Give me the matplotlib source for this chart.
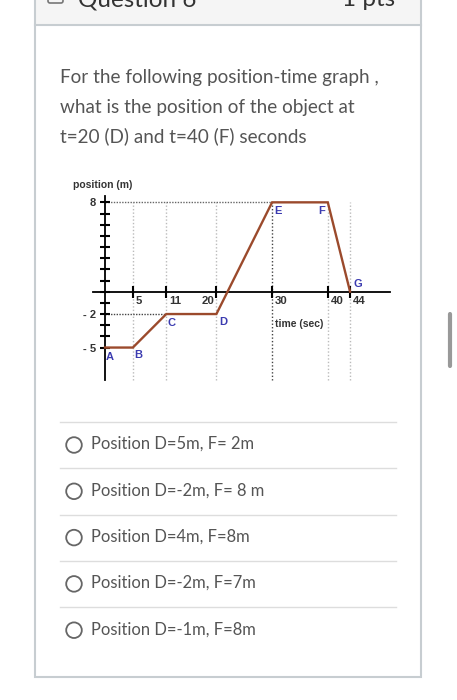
import matplotlib.pyplot as plt
import matplotlib.transforms as mtransforms
from matplotlib.patches import Rectangle, FancyBboxPatch, Circle

# graph data (position-time)
times = [0, 5, 11, 20, 30, 40, 44]
positions = [-5, -5, -2, -2, 8, 8, 0]
point_names = ["A", "B", "C", "D", "E", "F", "G"]
xtick_vals = [5, 11, 20, 30, 40, 44]
ytick_labels = {8: "8", -2: "- 2", -5: "- 5"}

question_lines = ["For the following position-time graph ,",
                  "what is the position of the object at",
                  "t=20 (D) and t=40 (F) seconds"]
options = ["Position D=5m, F= 2m",
           "Position D=-2m, F= 8 m",
           "Position D=4m, F=8m",
           "Position D=-2m, F=7m",
           "Position D=-1m, F=8m"]

W, H = 457, 700
fig = plt.figure(figsize=(W / 100, H / 100), dpi=100)

# background axes in pixel coords
bg = fig.add_axes([0, 0, 1, 1])
bg.set_xlim(0, W)
bg.set_ylim(H, 0)
bg.axis("off")

border = "#c7cdd1"
text_col = "#555555"
ui_font = ["Lato", "DejaVu Sans"]

# card + header
bg.add_patch(Rectangle((35, -5), 386, 30, facecolor="#f5f5f5", edgecolor="none"))
bg.add_patch(Rectangle((35, -5), 386, 682, facecolor="none", edgecolor=border, lw=1.5))
bg.plot([35, 421], [25, 25], color=border, lw=1.5)
bg.add_patch(FancyBboxPatch((48, -12), 15, 15, boxstyle="round,pad=0,rounding_size=2",
                            facecolor="none", edgecolor="#777777", lw=1.2))
# header title is cut by the top edge, as in the screenshot
bg.text(78, 6.5, "Question 6", fontsize=17.5, family=ui_font, color="#333333", va="baseline")
bg.text(395, 6.5, "1 pts", fontsize=17.5, family=ui_font, color="#333333",
        va="baseline", ha="right")

# scrollbar
bg.plot([450, 450], [314, 366], color="#999999", lw=3, solid_capstyle="round")

# question text
for i, line in enumerate(question_lines):
    bg.text(60, 78 + i * 29, line, fontsize=13.6, family=ui_font, color=text_col, va="center")

# answer options
for i, opt in enumerate(options):
    y_line = 422 + i * 46.3
    bg.plot([60, 396], [y_line, y_line], color="#dddddd", lw=1)
    yc = y_line + 23
    bg.add_patch(Circle((74, yc), 7.8, facecolor="white", edgecolor="#666666", lw=1.3))
    bg.text(91, yc - 1, opt, fontsize=11.9, family=ui_font, color=text_col, va="center")

# chart axes placed so that t=0 -> px 105, x=0 -> px 291.7
x0, xs = 105, 5.57
y0, ys = 291.7, 11.17
left_px, right_px, top_px, bot_px = 90, 395, 180, 385
ax = fig.add_axes([left_px / W, 1 - bot_px / H, (right_px - left_px) / W, (bot_px - top_px) / H])
ax.patch.set_alpha(0)
ax.set_xlim((left_px - x0) / xs, (right_px - x0) / xs)
ax.set_ylim((y0 - bot_px) / ys, (y0 - top_px) / ys)

for s in ["top", "right"]:
    ax.spines[s].set_visible(False)
ax.spines["left"].set_position(("data", 0))
ax.spines["bottom"].set_position(("data", 0))
ax.spines["left"].set_bounds(-7.9, 8.6)
ax.spines["bottom"].set_bounds(-2.15, 51.1)
ax.spines["left"].set_linewidth(1.3)
ax.spines["bottom"].set_linewidth(1.3)

ax.set_yticks(range(-5, 9))
ax.set_yticklabels([ytick_labels.get(v, "") for v in range(-5, 9)])
ax.set_xticks(xtick_vals)
ax.set_xticklabels([])
ax.tick_params(axis="both", direction="inout", length=7, width=1.5, colors="black")
ax.tick_params(axis="x", length=8)
ax.tick_params(axis="y", pad=3, labelsize=8)
for lab in ax.get_yticklabels():
    lab.set_fontfamily("Liberation Sans")
    lab.set_fontweight("bold")
    lab.set_color("#333333")

# dotted guide lines
for t in xtick_vals:
    col = "#444444" if t == 30 else "#bbbbbb"
    ax.plot([t, t], [-7.9, 8], color=col, lw=1, linestyle=(0, (1, 1.5)), zorder=1)
ax.plot([0, 30], [8, 8], color="#666666", lw=1, linestyle=(0, (1, 1)), zorder=1)
ax.plot([0, 11], [-2, -2], color="#444444", lw=1, linestyle=(0, (1, 1)), zorder=1)

# graph line
ax.plot(times, positions, color="#9b4a2c", lw=1.7, zorder=3, solid_joinstyle="miter")

# x tick labels (beside each tick)
tick_font = dict(family="Liberation Sans", fontweight="bold", fontsize=8.2, color="#333333")
for t in xtick_vals:
    if t == 20:
        tr = mtransforms.offset_copy(ax.transData, fig=fig, x=-2, y=-9, units="dots")
        ax.text(t, 0, str(t), transform=tr, ha="right", va="center", **tick_font)
    else:
        tr = mtransforms.offset_copy(ax.transData, fig=fig, x=3, y=-9, units="dots")
        ax.text(t, 0, str(t), transform=tr, ha="left", va="center", **tick_font)

# point letters
offsets = {"A": (5, -9), "B": (5, -7.5), "C": (5.6, -9), "D": (6.5, -8),
           "E": (6, -8.3), "F": (-6.6, -8.3), "G": (7.5, 7.4)}
for t, p, name in zip(times, positions, point_names):
    dx, dy = offsets[name]
    tr = mtransforms.offset_copy(ax.transData, fig=fig, x=dx, y=dy, units="dots")
    ax.text(t, p, name, transform=tr, ha="center", va="center", color="#3b3bb0",
            family="Liberation Sans", fontweight="bold", fontsize=8)

# axis titles
lab_font = dict(family="Liberation Sans", fontweight="bold", fontsize=7.5, color="#333333")
bg.text(73, 185, "position (m)", ha="left", va="center", **lab_font)
bg.text(275, 324, "time (sec)", ha="left", va="center", **lab_font)

fig.savefig("out.png", dpi=100)
